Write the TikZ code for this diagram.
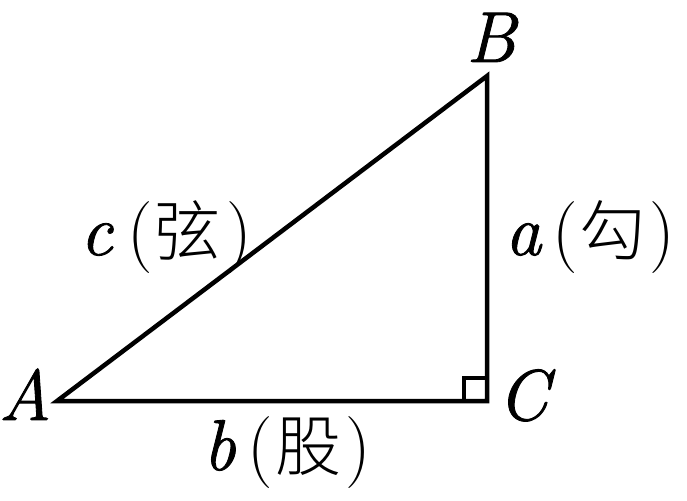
\documentclass[tikz,border=0pt]{standalone}
\usepackage{fontspec}
\newfontfamily\lmr{Latin Modern Roman}[ItalicFeatures={FakeBold=1.2}]
\newfontfamily\cjk{Noto Sans CJK SC Light}
\begin{document}
\begin{tikzpicture}[x=1pt,y=-1pt,
  edge/.style={line width=4.5pt},
  letter/.style={inner sep=0pt,anchor=base,font=\lmr\fontsize{72}{72}\selectfont\itshape},
  side/.style={inner sep=0pt,anchor=base west,font=\lmr\fontsize{72}{72}\selectfont}]
\useasboundingbox (0,0) rectangle (687,500);
\coordinate (A) at (57,401);
\coordinate (B) at (487,76);
\coordinate (C) at (487,401);
\draw[edge] (A) -- (B) -- (C) -- cycle;
\draw[line width=3.5pt] ([xshift=-23pt]C) -- ++(0,-23) -- ++(23,0);
\node[letter] (lA) at (25,420) {A};
\node[letter] (lB) at (491,62) {B};
\node[letter] (lC) at (523,420) {C};
\node[side] (lc) at (80,255) {\textit{c}\hspace{14pt}(\hspace{2pt}{\cjk\fontsize{66}{66}\selectfont 弦}\hspace{6pt})};
\node[side] (la) at (505,255) {\textit{a}\hspace{10pt}(\hspace{2pt}{\cjk\fontsize{66}{66}\selectfont 勾}\hspace{4pt})};
\node[side] (lb) at (203,470) {\textit{b}\hspace{12pt}(\hspace{2pt}{\cjk\fontsize{66}{66}\selectfont 股}\hspace{4pt})};
\end{tikzpicture}
\end{document}
